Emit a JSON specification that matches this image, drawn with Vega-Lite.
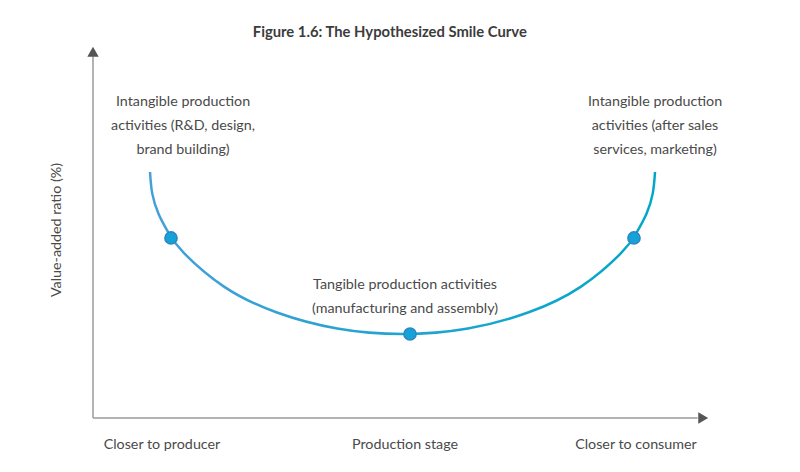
{
  "$schema": "https://vega.github.io/schema/vega-lite/v6.json",
  "width": 617,
  "height": 373,
  "autosize": {"type": "none"},
  "padding": {"left": 93, "top": 45, "right": 90, "bottom": 54},
  "background": "white",
  "config": {"view": {"stroke": null}, "font": "Lato"},
  "datasets": {
    "curve": [
      {"i": 0, "x": 9.24, "y": 65.95},
      {"i": 1, "x": 9.59, "y": 60.29},
      {"i": 2, "x": 10.63, "y": 54.72},
      {"i": 3, "x": 12.35, "y": 49.33},
      {"i": 4, "x": 14.72, "y": 44.24},
      {"i": 5, "x": 21.23, "y": 35.23},
      {"i": 6, "x": 29.7, "y": 28.34},
      {"i": 7, "x": 39.56, "y": 23.99},
      {"i": 8, "x": 50.16, "y": 22.52},
      {"i": 9, "x": 60.76, "y": 23.99},
      {"i": 10, "x": 70.62, "y": 28.34},
      {"i": 11, "x": 79.09, "y": 35.23},
      {"i": 12, "x": 85.61, "y": 44.24},
      {"i": 13, "x": 87.97, "y": 49.33},
      {"i": 14, "x": 89.69, "y": 54.72},
      {"i": 15, "x": 90.73, "y": 60.29},
      {"i": 16, "x": 91.09, "y": 65.95}
    ],
    "dots": [
      {"x": 12.64, "y": 48.26},
      {"x": 51.38, "y": 22.52},
      {"x": 87.68, "y": 48.26}
    ],
    "axes": [
      {"x": 0, "y": 0, "x2": 0, "y2": 97},
      {"x": 0, "y": 0, "x2": 98, "y2": 0}
    ],
    "arrows": [
      {"x": 0, "y": 98.2, "shape": "triangle-up"},
      {"x": 98.9, "y": 0, "shape": "triangle-right"}
    ],
    "labels": [
      {"x": 14.59, "y": 84.72, "t": "Intangible production"},
      {"x": 14.59, "y": 78.28, "t": "activities (R&D, design,"},
      {"x": 14.59, "y": 71.85, "t": "brand building)"},
      {"x": 91.09, "y": 84.72, "t": "Intangible production"},
      {"x": 91.09, "y": 78.28, "t": "activities (after sales"},
      {"x": 91.09, "y": 71.85, "t": "services, marketing)"},
      {"x": 50.57, "y": 35.66, "t": "Tangible production activities"},
      {"x": 50.57, "y": 29.22, "t": "(manufacturing and assembly)"},
      {"x": 11.18, "y": -7.24, "t": "Closer to producer"},
      {"x": 50.57, "y": -7.24, "t": "Production stage"},
      {"x": 88.0, "y": -7.24, "t": "Closer to consumer"}
    ]
  },
  "layer": [
    {
      "data": {"name": "axes"},
      "mark": {"type": "rule", "color": "#9a9a9a", "strokeWidth": 1.5},
      "encoding": {
        "x": {"field": "x", "type": "quantitative", "scale": {"domain": [0, 100], "nice": false}, "axis": null},
        "y": {"field": "y", "type": "quantitative", "scale": {"domain": [0, 100], "nice": false}, "axis": null},
        "x2": {"field": "x2"},
        "y2": {"field": "y2"}
      }
    },
    {
      "data": {"name": "arrows"},
      "mark": {"type": "point", "filled": true, "color": "#555555", "size": 130, "opacity": 1},
      "encoding": {
        "x": {"field": "x", "type": "quantitative"},
        "y": {"field": "y", "type": "quantitative"},
        "shape": {"field": "shape", "type": "nominal", "scale": null, "legend": null}
      }
    },
    {
      "data": {"name": "curve"},
      "mark": {
        "type": "line",
        "interpolate": "natural",
        "strokeWidth": 2.5,
        "color": {
          "gradient": "linear",
          "x1": 0, "y1": 0, "x2": 1, "y2": 0,
          "stops": [
            {"offset": 0, "color": "#44a0d8"},
            {"offset": 1, "color": "#00a7c8"}
          ]
        }
      },
      "encoding": {
        "x": {"field": "x", "type": "quantitative"},
        "y": {"field": "y", "type": "quantitative"},
        "order": {"field": "i", "type": "quantitative"}
      }
    },
    {
      "data": {"name": "dots"},
      "mark": {"type": "point", "filled": true, "fill": "#14a2d8", "stroke": "#2f86bf", "strokeWidth": 1.5, "size": 150, "opacity": 1, "strokeOpacity": 1},
      "encoding": {
        "x": {"field": "x", "type": "quantitative"},
        "y": {"field": "y", "type": "quantitative"}
      }
    },
    {
      "data": {"name": "labels"},
      "mark": {"type": "text", "font": "Lato", "fontSize": 14.3, "color": "#4a4a4a", "align": "center", "baseline": "middle"},
      "encoding": {
        "x": {"field": "x", "type": "quantitative"},
        "y": {"field": "y", "type": "quantitative"},
        "text": {"field": "t"}
      }
    },
    {
      "data": {"values": [{"x": -5.83, "y": 50.4, "t": "Value-added ratio (%)"}]},
      "mark": {"type": "text", "font": "Lato", "fontSize": 14.3, "color": "#4a4a4a", "align": "center", "baseline": "middle", "angle": 270},
      "encoding": {
        "x": {"field": "x", "type": "quantitative"},
        "y": {"field": "y", "type": "quantitative"},
        "text": {"field": "t"}
      }
    },
    {
      "data": {"values": [{"x": 48.1, "y": 103.2, "t": "Figure 1.6: The Hypothesized Smile Curve"}]},
      "mark": {"type": "text", "font": "Lato", "fontSize": 14.8, "fontWeight": "bold", "color": "#3c3c3c", "align": "center", "baseline": "middle"},
      "encoding": {
        "x": {"field": "x", "type": "quantitative"},
        "y": {"field": "y", "type": "quantitative"},
        "text": {"field": "t"}
      }
    }
  ]
}
